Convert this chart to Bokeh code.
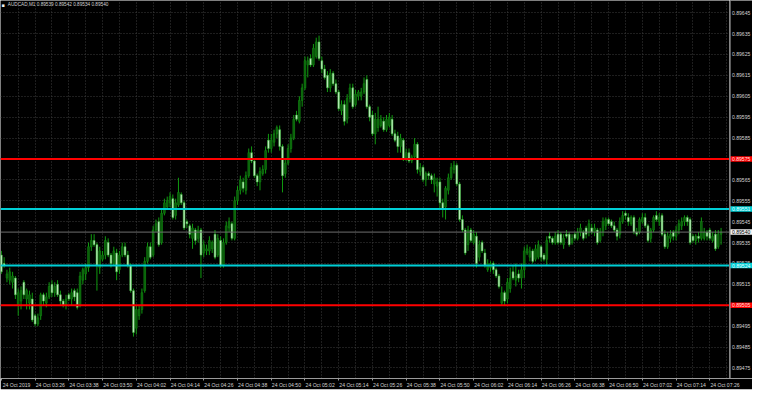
from bokeh.plotting import figure
from bokeh.layouts import row, column
from bokeh.models import FixedTicker, Span, Label, ColumnDataSource, Range1d
from bokeh.embed import file_html
from bokeh.resources import INLINE
from bokeh.core.properties import value

symbol = "AUDCAD,M1"

# OHLC in price points (1 point = 0.00001), one bar per minute from 03:14
opens = [89529,89525,89518,89517,89516,89518,89505,89507,89516,89508,
 89506,89508,89500,89496,89500,89510,89506,89509,89515,89511,
 89515,89510,89507,89505,89510,89508,89512,89511,89505,89517,
 89520,89523,89533,89536,89534,89523,89527,89529,89535,89529,
 89525,89530,89522,89529,89533,89529,89524,89512,89494,89500,
 89503,89512,89526,89533,89529,89541,89545,89535,89549,89552,
 89554,89556,89548,89553,89558,89554,89545,89543,89537,89541,
 89537,89541,89530,89531,89531,89532,89539,89529,89536,89524,
 89535,89542,89544,89537,89555,89560,89564,89560,89567,89578,
 89574,89567,89564,89568,89570,89584,89580,89583,89587,89589,
 89581,89568,89573,89580,89585,89596,89593,89603,89609,89620,
 89623,89620,89624,89631,89622,89618,89615,89609,89616,89611,
 89607,89598,89601,89594,89604,89609,89601,89605,89605,89607,
 89613,89600,89596,89587,89590,89591,89593,89589,89591,89594,
 89587,89586,89581,89584,89575,89578,89574,89576,89582,89569,
 89571,89565,89568,89567,89563,89562,89564,89554,89552,89560,
 89566,89570,89572,89563,89546,89541,89534,89541,89535,89538,
 89528,89535,89530,89522,89523,89525,89522,89519,89506,89511,
 89508,89513,89521,89517,89520,89518,89522,89530,89528,89531,
 89527,89528,89533,89529,89527,89538,89537,89535,89539,89539,
 89534,89539,89539,89535,89539,89537,89540,89540,89542,89540,
 89542,89540,89541,89536,89540,89543,89546,89545,89543,89541,
 89539,89545,89549,89547,89544,89547,89540,89540,89545,89547,
 89543,89537,89541,89548,89545,89548,89539,89533,89537,89540,
 89538,89541,89543,89545,89547,89546,89538,89536,89538,89537,
 89537,89540,89541,89536,89539,89533,89539]

closes = [89521,89524,89520,89521,89519,89510,89511,89512,89510,89512,
 89510,89498,89496,89499,89510,89507,89509,89514,89511,89514,
 89510,89507,89505,89508,89508,89511,89509,89504,89519,89522,
 89523,89533,89536,89534,89524,89531,89529,89536,89529,89525,
 89531,89521,89529,89533,89529,89524,89512,89492,89503,89503,
 89511,89526,89533,89528,89541,89544,89534,89549,89554,89555,
 89557,89547,89554,89559,89554,89542,89544,89539,89542,89536,
 89541,89529,89534,89532,89536,89535,89528,89537,89524,89535,
 89543,89545,89537,89555,89560,89565,89561,89567,89578,89574,
 89567,89564,89569,89570,89579,89580,89584,89587,89590,89581,
 89567,89573,89580,89585,89594,89594,89603,89609,89622,89622,
 89620,89628,89631,89623,89618,89614,89609,89616,89611,89607,
 89599,89601,89593,89604,89609,89600,89606,89607,89607,89611,
 89600,89595,89587,89594,89594,89594,89589,89594,89595,89587,
 89584,89581,89585,89575,89578,89574,89576,89582,89570,89571,
 89565,89568,89567,89565,89566,89564,89554,89551,89561,89566,
 89571,89572,89563,89546,89541,89530,89541,89536,89539,89525,
 89534,89531,89524,89525,89525,89522,89519,89514,89511,89507,
 89516,89518,89518,89519,89518,89522,89531,89532,89531,89526,
 89532,89534,89528,89527,89536,89537,89535,89538,89535,89535,
 89537,89538,89534,89537,89537,89540,89542,89537,89539,89544,
 89540,89542,89535,89540,89545,89546,89544,89543,89541,89538,
 89545,89548,89548,89545,89547,89540,89539,89546,89547,89543,
 89536,89541,89547,89546,89547,89539,89533,89538,89539,89538,
 89541,89544,89545,89547,89545,89535,89536,89538,89537,89545,
 89540,89538,89537,89538,89532,89539,89540]

highs = [89531,89528,89522,89523,89521,89519,89513,89514,89517,89513,
 89512,89511,89501,89501,89511,89511,89511,89516,89517,89516,
 89517,89512,89508,89510,89511,89513,89513,89513,89521,89523,
 89525,89535,89539,89539,89535,89533,89531,89538,89537,89530,
 89533,89532,89531,89535,89535,89531,89525,89513,89505,89505,
 89513,89528,89535,89535,89543,89546,89547,89551,89556,89557,
 89559,89558,89556,89566,89559,89555,89546,89544,89544,89542,
 89543,89542,89536,89534,89538,89536,89541,89539,89538,89537,
 89545,89547,89545,89557,89562,89567,89566,89569,89580,89581,
 89575,89568,89571,89572,89581,89587,89587,89589,89591,89591,
 89582,89575,89582,89587,89596,89598,89605,89611,89624,89624,
 89625,89630,89633,89634,89624,89620,89617,89618,89617,89613,
 89608,89603,89603,89606,89611,89611,89608,89608,89609,89614,
 89615,89601,89598,89597,89600,89596,89595,89596,89597,89596,
 89589,89588,89587,89585,89580,89580,89577,89585,89583,89573,
 89572,89569,89569,89568,89568,89566,89566,89556,89562,89568,
 89573,89574,89573,89564,89548,89542,89543,89542,89541,89540,
 89536,89536,89532,89527,89526,89526,89523,89520,89514,89512,
 89518,89523,89524,89525,89522,89525,89533,89534,89533,89532,
 89534,89536,89534,89530,89538,89540,89538,89540,89541,89540,
 89539,89541,89540,89539,89540,89542,89544,89541,89543,89546,
 89544,89544,89542,89542,89547,89547,89547,89546,89545,89542,
 89547,89550,89550,89549,89548,89548,89542,89547,89549,89549,
 89544,89542,89548,89550,89549,89549,89541,89540,89541,89541,
 89543,89546,89547,89548,89548,89547,89539,89539,89540,89547,
 89542,89541,89542,89540,89541,89541,89542]

lows = [89520,89523,89516,89515,89513,89508,89500,89503,89508,89503,
 89503,89497,89495,89495,89498,89505,89504,89508,89509,89509,
 89509,89505,89504,89503,89507,89505,89507,89503,89504,89515,
 89517,89521,89531,89533,89512,89520,89526,89527,89528,89523,
 89524,89517,89520,89528,89528,89523,89511,89490,89491,89498,
 89501,89511,89525,89527,89528,89540,89533,89534,89548,89551,
 89552,89546,89546,89552,89553,89541,89542,89537,89532,89534,
 89535,89518,89528,89529,89529,89530,89527,89528,89523,89523,
 89534,89540,89536,89536,89553,89558,89559,89558,89566,89573,
 89566,89562,89560,89567,89568,89578,89578,89581,89585,89579,
 89559,89566,89572,89578,89584,89593,89592,89600,89608,89614,
 89619,89619,89623,89622,89616,89613,89607,89607,89610,89606,
 89598,89596,89591,89592,89602,89599,89600,89603,89603,89606,
 89599,89593,89586,89582,89588,89590,89588,89588,89590,89586,
 89583,89578,89578,89574,89574,89573,89573,89575,89568,89567,
 89564,89562,89565,89563,89559,89557,89551,89547,89546,89558,
 89565,89568,89562,89545,89540,89529,89531,89535,89534,89523,
 89526,89530,89523,89521,89521,89520,89518,89513,89505,89505,
 89506,89511,89517,89514,89516,89513,89518,89529,89526,89525,
 89526,89527,89526,89526,89524,89535,89534,89534,89534,89534,
 89532,89537,89533,89534,89536,89536,89538,89536,89537,89538,
 89539,89538,89534,89535,89538,89541,89543,89542,89540,89536,
 89537,89544,89546,89543,89543,89539,89538,89539,89544,89542,
 89535,89535,89540,89545,89543,89538,89532,89532,89535,89536,
 89536,89539,89541,89543,89543,89534,89535,89534,89535,89536,
 89536,89536,89536,89535,89531,89532,89534]

price_ticks = [0.89475, 0.89485, 0.89495, 0.89505, 0.89515, 0.89525, 0.89535,
               0.89545, 0.89555, 0.89565, 0.89575, 0.89585, 0.89595, 0.89605,
               0.89615, 0.89625, 0.89635, 0.89645]
time_labels = ["24 Oct 2019", "24 Oct 03:26", "24 Oct 03:38", "24 Oct 03:50",
               "24 Oct 04:02", "24 Oct 04:14", "24 Oct 04:26", "24 Oct 04:38",
               "24 Oct 04:50", "24 Oct 05:02", "24 Oct 05:14", "24 Oct 05:26",
               "24 Oct 05:38", "24 Oct 05:50", "24 Oct 06:02", "24 Oct 06:14",
               "24 Oct 06:26", "24 Oct 06:38", "24 Oct 06:50", "24 Oct 07:02",
               "24 Oct 07:14", "24 Oct 07:26"]
red_levels = [0.89575, 0.89505]
cyan_levels = [0.89551, 0.89524]
bid_price = 0.89540

FONT = "Liberation Sans"
FS = "5.1px"
TXT = "#d2d2d2"
AXIS = "#9a9a9a"
RED = "#ff0000"
CYAN = "#00cfd6"
BULL_FILL = "#0a5c0a"
BEAR_FILL = "#cdf5cd"
WICK = "#109a10"

MAIN_W, SCALE_W, CHART_H, AXIS_H = 729, 23, 378, 11

n = len(opens)
xs = list(range(n))
o = [v / 1e5 for v in opens]
c = [v / 1e5 for v in closes]
h = [max(a, b, d) / 1e5 for a, b, d in zip(highs, opens, closes)]
l = [min(a, b, d) / 1e5 for a, b, d in zip(lows, opens, closes)]
up = [cc >= oo for oo, cc in zip(o, c)]

src_all = ColumnDataSource(dict(x=xs, high=h, low=l))
up_src = ColumnDataSource(dict(
    x=[x for x, u in zip(xs, up) if u],
    top=[cc for cc, u in zip(c, up) if u],
    bottom=[oo for oo, u in zip(o, up) if u]))
dn_src = ColumnDataSource(dict(
    x=[x for x, u in zip(xs, up) if not u],
    top=[oo for oo, u in zip(o, up) if not u],
    bottom=[cc for cc, u in zip(c, up) if not u]))

x_start, x_end = -0.3, 259.0
y_range = Range1d(0.8946996, 0.8965080)

def blank(fig):
    fig.background_fill_color = "black"
    fig.border_fill_color = "black"
    fig.outline_line_color = None

# ---- candle chart ----
p = figure(width=MAIN_W, height=CHART_H, output_backend="svg", toolbar_location=None,
           x_range=Range1d(x_start, x_end), y_range=y_range,
           x_axis_location=None, y_axis_location=None,
           min_border_left=0, min_border_top=0, min_border_right=0, min_border_bottom=0)
blank(p)

tick_bars = list(range(0, 12 * len(time_labels), 12))
p.ygrid.ticker = FixedTicker(ticks=price_ticks)
p.xgrid.ticker = FixedTicker(ticks=list(range(6, 259, 6)))
for g in (p.xgrid, p.ygrid):
    g.grid_line_color = "#3d3d3d"
    g.grid_line_dash = "1 2"
    g.grid_line_width = 1

for lv in red_levels:
    p.add_layout(Span(location=lv, dimension="width", line_color=RED, line_width=2))
for lv in cyan_levels:
    p.add_layout(Span(location=lv, dimension="width", line_color=CYAN, line_width=2))
p.add_layout(Span(location=bid_price, dimension="width", line_color="#6e6e6e", line_width=1))

p.segment(x0="x", y0="low", x1="x", y1="high", source=src_all, line_color=WICK, line_width=1)
p.vbar(x="x", width=0.62, top="top", bottom="bottom", source=up_src,
       fill_color=BULL_FILL, line_color="#128a12", line_width=0.6)
p.vbar(x="x", width=0.62, top="top", bottom="bottom", source=dn_src,
       fill_color=BEAR_FILL, line_color="#3cb43c", line_width=0.6)

title = f"{symbol}  {opens[-1]/1e5:.5f} {highs[-1]/1e5:.5f} {lows[-1]/1e5:.5f} {closes[-1]/1e5:.5f}"
p.add_layout(Label(x=x_start + 2.6, y=y_range.end - 0.0000070, text=title, text_align="left",
                   text_baseline="top", text_font=FONT, text_font_size="4.7px",
                   text_color=TXT))
p.add_layout(Label(x=x_start + 0.4, y=y_range.end - 0.0000060, text="\u25aa", text_align="left",
                   text_baseline="top", text_font="DejaVu Sans", text_font_size="5px",
                   text_color="#f0f0f0"))

# ---- price scale panel (shares the price range) ----
s = figure(width=SCALE_W, height=CHART_H, output_backend="svg", toolbar_location=None,
           x_range=Range1d(-0.6, SCALE_W - 0.6), y_range=y_range,
           x_axis_location=None, y_axis_location=None,
           min_border_left=0, min_border_top=0, min_border_right=0, min_border_bottom=0)
blank(s)
s.grid.visible = False
s.add_layout(Span(location=0, dimension="height", line_color=AXIS, line_width=1))
s.text(x=[1.8] * len(price_ticks), y=price_ticks, text=[f"{t:.5f}" for t in price_ticks],
       text_font=value(FONT), text_font_size=FS, text_color=TXT,
       text_align="left", text_baseline="middle")

tag_levels = red_levels + cyan_levels + [bid_price]
tag_bg = [RED] * len(red_levels) + [CYAN] * len(cyan_levels) + ["#f2f2f2"]
tag_fg = ["#ffe0e0"] * len(red_levels) + ["#eaffff"] * len(cyan_levels) + ["#000000"]
s.rect(x=[SCALE_W / 2] * len(tag_levels), y=tag_levels, width=SCALE_W, height=5.5,
       height_units="screen", fill_color=tag_bg, line_color=None)
s.text(x=[1.8] * len(tag_levels), y=tag_levels, text=[f"{t:.5f}" for t in tag_levels],
       text_font=value(FONT), text_font_size=FS, text_color=tag_fg,
       text_align="left", text_baseline="middle")

# ---- time axis strip (same bar scale, spans full width) ----
full_end = x_start + (x_end - x_start) * (MAIN_W + SCALE_W) / MAIN_W
t = figure(width=MAIN_W + SCALE_W, height=AXIS_H, output_backend="svg", toolbar_location=None,
           x_range=Range1d(x_start, full_end), y_range=Range1d(0, 1),
           y_axis_location=None,
           min_border_left=0, min_border_top=0, min_border_right=0, min_border_bottom=AXIS_H - 1)
blank(t)
t.grid.visible = False
label_pos = [b + 5.4 for b in tick_bars]
xa = t.xaxis[0]
xa.ticker = FixedTicker(ticks=label_pos, minor_ticks=tick_bars)
xa.major_label_overrides = {pos: lab for pos, lab in zip(label_pos, time_labels)}
xa.axis_line_color = AXIS
xa.major_tick_line_color = None
xa.minor_tick_line_color = AXIS
xa.minor_tick_in = 0
xa.minor_tick_out = 2
xa.major_tick_in = 0
xa.major_tick_out = 0
xa.major_label_standoff = 1
xa.major_label_text_color = TXT
xa.major_label_text_font = FONT
xa.major_label_text_font_size = FS

layout = column(row(p, s, spacing=0), t, spacing=0)
open("out.html", "w").write(file_html(layout, INLINE))
